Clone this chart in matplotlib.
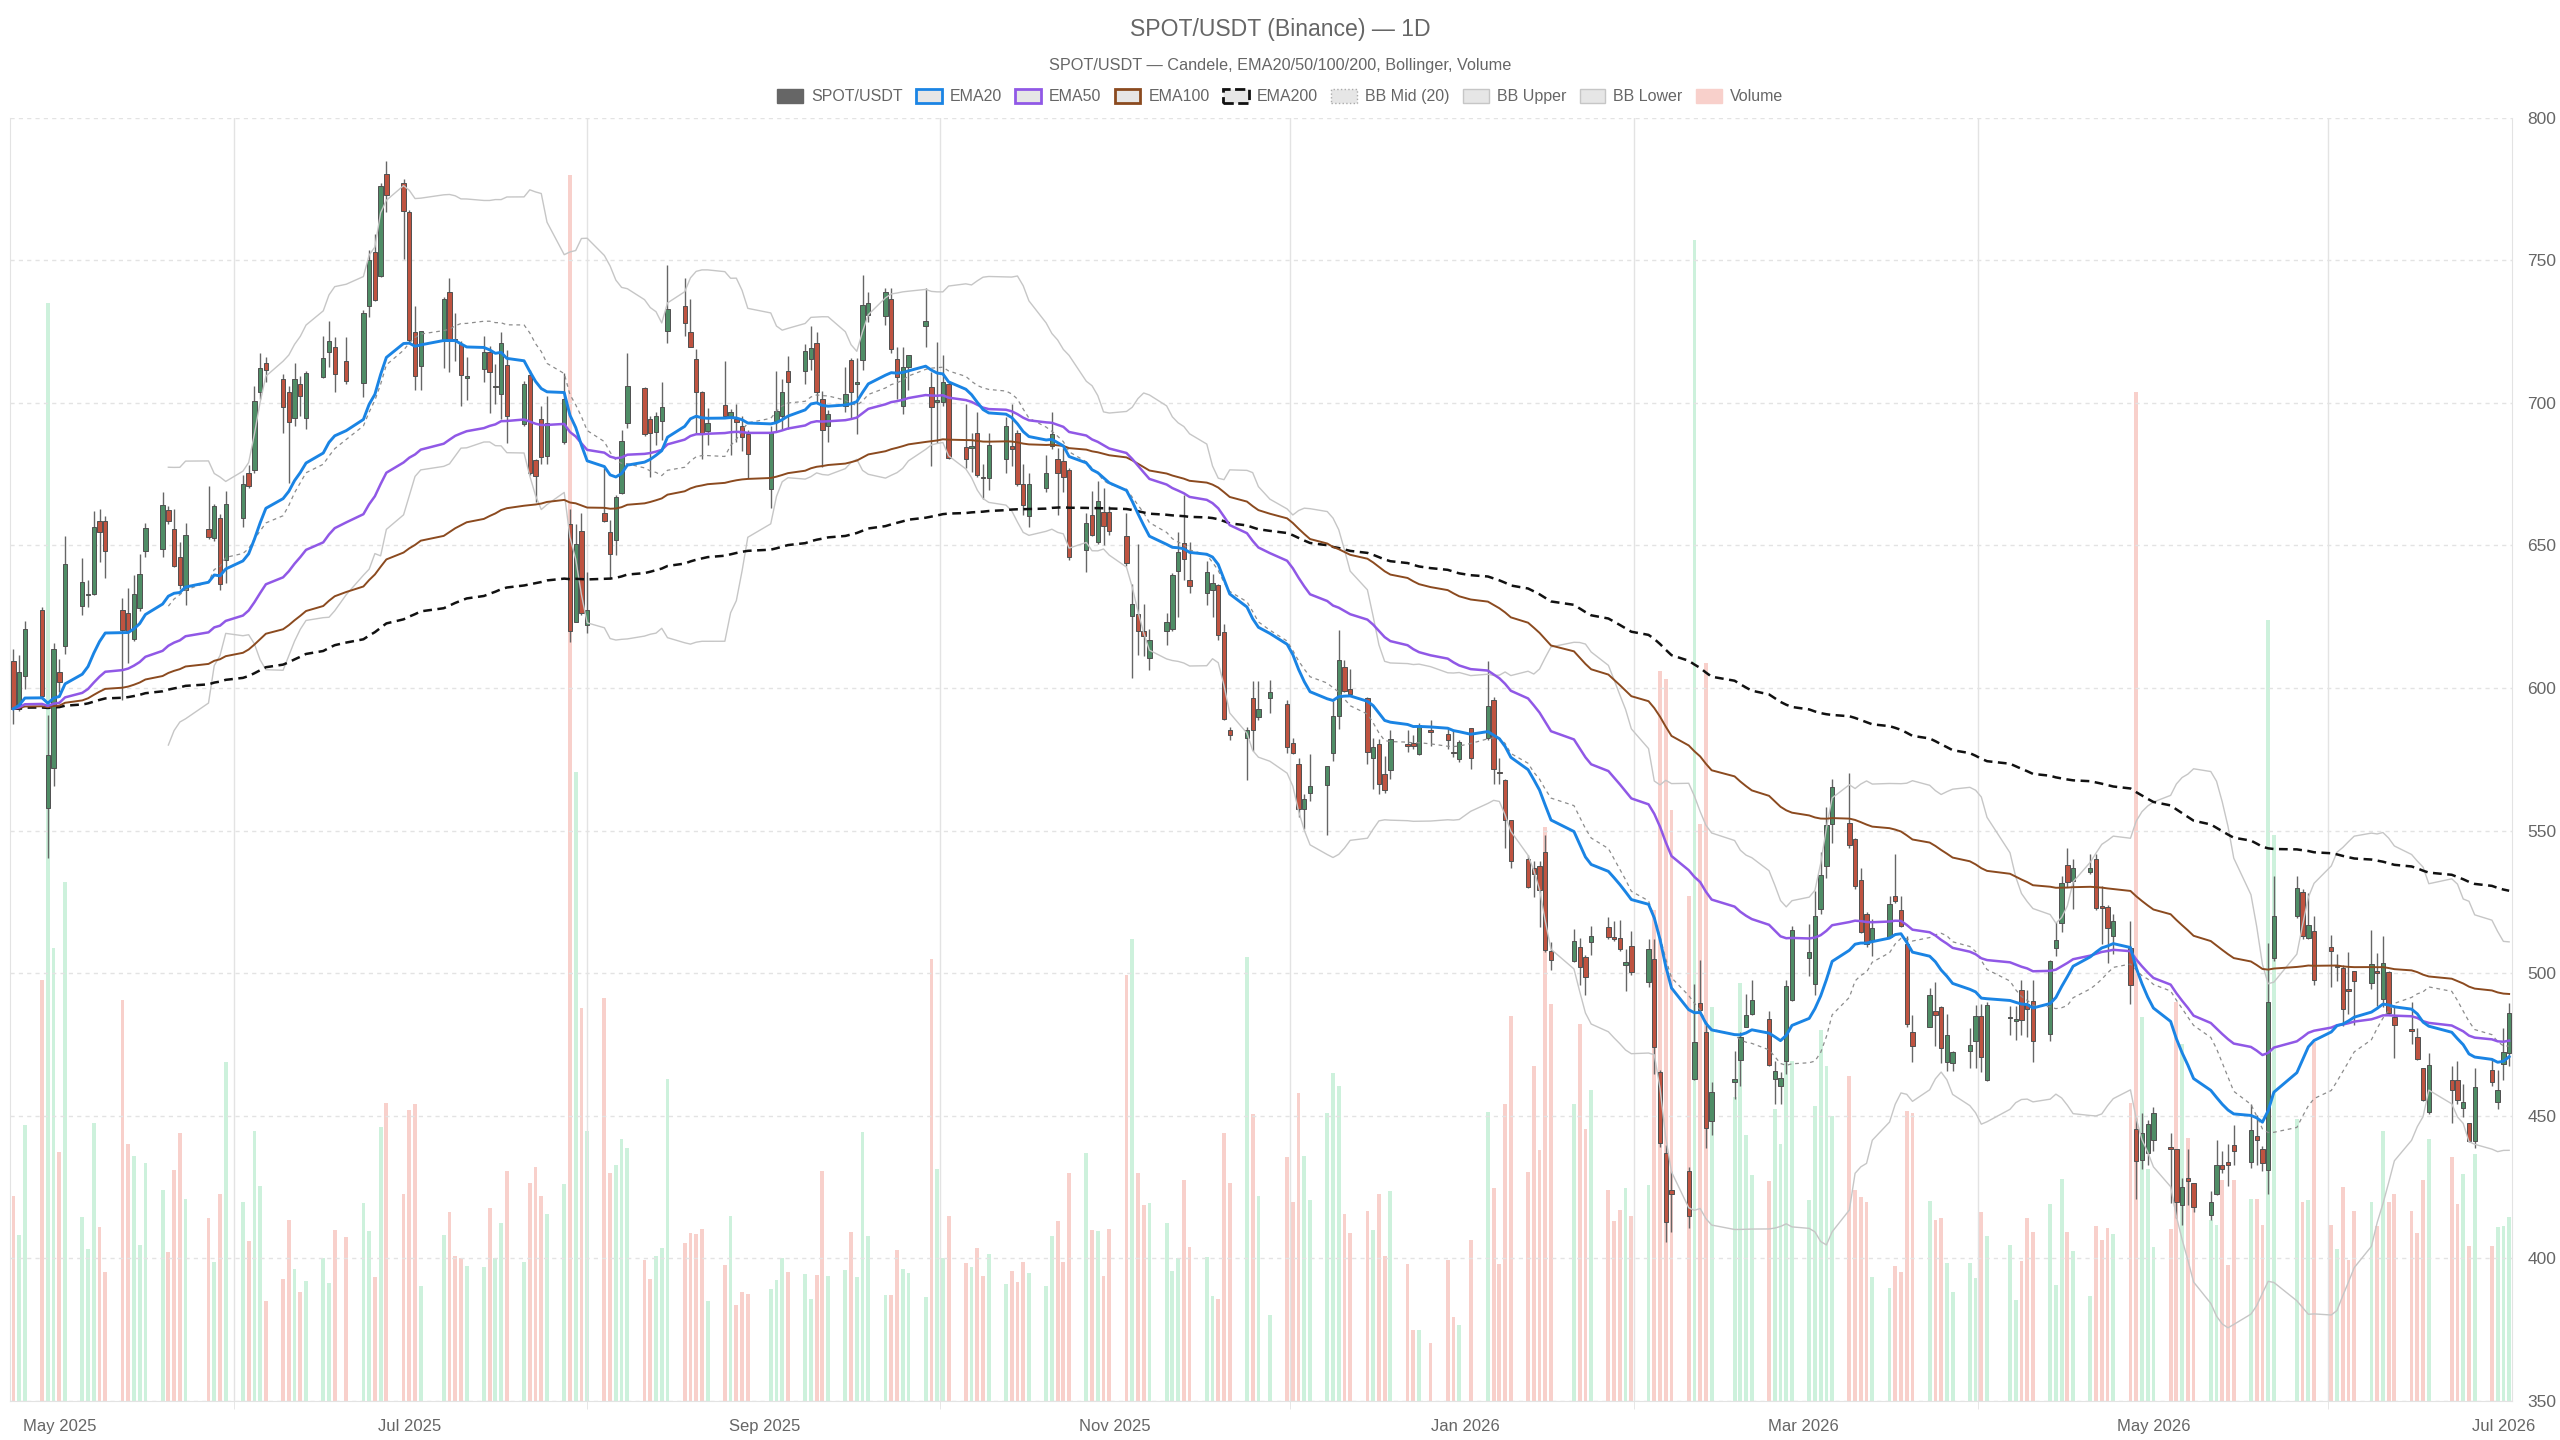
import numpy as np
import pandas as pd
import matplotlib
matplotlib.use("Agg")
import matplotlib.pyplot as plt
import matplotlib.dates as mdates
from matplotlib.patches import Patch
from matplotlib.ticker import FixedLocator

plt.rcParams["font.family"] = ["Liberation Sans", "DejaVu Sans"]

# trading days, exchange holidays removed
holidays = ["2025-05-26", "2025-06-19", "2025-07-04", "2025-09-01", "2025-11-27",
            "2025-12-25", "2026-01-01", "2026-01-19", "2026-02-16", "2026-04-03",
            "2026-05-25", "2026-06-19"]
dates = pd.bdate_range("2025-04-23", "2026-07-02", freq="C", holidays=holidays)

# one row per month
opens = [
    609.6, 592.7, 604.3, 627.5, 557.9, 571.8,
    605.7, 614.6, 628.6, 632.5, 632.9, 658.4, 658.4, 627.5, 626.3, 617.3, 628.0, 648.0, 648.6, 662.5, 655.7, 645.9, 634.3, 655.7, 652.5, 659.6, 645.0,
    659.6, 675.4, 676.3, 703.9, 713.8, 708.4, 703.9, 694.5, 706.4, 694.5, 709.1, 717.7, 719.5, 714.5, 707.0, 734.0, 752.8, 744.5, 780.2, 777.0,
    766.9, 724.7, 713.0, 721.6, 738.8, 722.3, 720.5, 708.8, 711.9, 717.7, 705.4, 703.1, 713.3, 692.7, 709.8, 679.8, 694.2, 681.4, 686.1, 657.5, 623.0, 655.2,
    622.0, 661.4, 654.8, 651.7, 668.4, 693.0, 705.0, 694.3, 689.7, 693.7, 725.0, 734.0, 724.9, 715.5, 703.8, 690.0, 699.1, 695.5, 694.3, 691.9, 689.2,
    669.8, 693.6, 695.2, 711.2, 711.2, 715.4, 720.9, 701.3, 691.9, 698.8, 715.1, 706.7, 715.1, 730.8, 730.4, 736.5, 715.4, 698.7, 712.6, 727.0, 705.4,
    700.2, 700.3, 706.4, 684.4, 684.3, 689.4, 673.8, 673.6, 680.2, 684.8, 689.5, 671.6, 660.2, 670.0, 684.8, 680.2, 679.7, 676.3, 648.4, 660.6, 651.3, 661.7, 661.7,
    653.1, 625.2, 625.9, 620.0, 610.6, 620.0, 620.5, 641.1, 650.8, 637.7, 633.3, 634.4, 636.1, 619.5, 585.2, 582.5, 596.6, 589.8, 596.6,
    594.5, 580.7, 573.2, 557.4, 563.1, 566.0, 577.1, 590.3, 607.2, 599.5, 596.4, 575.3, 580.3, 569.9, 571.4, 580.3, 580.7, 576.7, 585.2, 583.9, 577.6, 575.0,
    586.0, 582.5, 595.9, 570.5, 567.8, 553.8, 539.9, 536.9, 537.4, 542.6, 507.9, 504.3, 509.1, 505.5, 510.9, 516.2, 512.8, 512.3, 502.8, 509.5,
    496.9, 504.8, 465.4, 436.9, 424.0, 430.7, 462.9, 489.7, 479.3, 448.3, 462.0, 469.6, 481.3, 485.7, 483.8, 462.9, 460.5, 469.3, 490.7,
    505.3, 496.1, 522.6, 537.6, 552.2, 552.7, 546.9, 532.6, 520.9, 511.5, 512.8, 527.1, 522.0, 510.3, 479.3, 481.0, 486.9, 488.0, 468.9, 468.5, 472.8, 476.3,
    484.9, 462.7, 484.2, 483.3, 494.0, 489.3, 490.4, 478.8, 508.9, 517.5, 537.8, 532.4, 535.5, 540.2, 523.3, 523.3, 513.1, 508.9, 445.4, 434.5, 436.8,
    441.5, 438.9, 438.4, 418.8, 428.2, 426.6, 415.2, 422.7, 432.9, 433.7, 439.6, 433.9, 442.9, 438.5, 430.9, 505.2, 520.0, 528.4, 512.3, 514.8,
    509.2, 502.0, 501.8, 494.6, 500.8, 496.4, 500.8, 490.9, 500.5, 484.6, 480.0, 477.6, 466.8, 451.3, 462.4, 462.4, 452.8, 447.6, 441.3, 466.1, 455.0,
    468.3, 472.0,
]
highs = [
    613.8, 611.4, 623.6, 628.5, 590.5, 615.6,
    610.2, 653.1, 645.5, 637.9, 662.0, 662.9, 660.2, 631.6, 635.2, 639.6, 646.8, 658.0, 668.6, 663.8, 662.9, 651.1, 657.9, 670.9, 664.6, 661.0, 669.1,
    674.5, 678.1, 705.7, 717.3, 716.1, 710.2, 705.7, 713.8, 709.3, 711.1, 723.4, 728.6, 723.1, 723.1, 732.5, 753.6, 759.0, 777.2, 784.8, 778.6,
    767.7, 734.0, 725.3, 737.2, 743.8, 731.6, 721.6, 716.1, 723.4, 720.0, 713.6, 724.7, 718.5, 707.5, 711.4, 680.2, 698.9, 702.2, 710.5, 662.9, 657.5, 661.4,
    640.6, 677.0, 659.0, 667.7, 690.3, 717.4, 705.5, 695.5, 696.9, 707.1, 748.3, 743.8, 736.3, 718.7, 704.2, 698.0, 714.7, 697.7, 699.4, 695.5, 690.4,
    691.9, 711.2, 708.4, 716.3, 720.5, 726.8, 724.9, 704.2, 697.4, 712.5, 715.8, 715.8, 744.8, 738.8, 740.2, 740.2, 719.5, 719.5, 716.9, 740.2, 710.8,
    721.4, 716.6, 707.1, 699.5, 689.5, 696.6, 678.6, 689.5, 695.0, 699.7, 690.3, 678.6, 675.2, 681.7, 696.6, 684.1, 684.1, 677.0, 661.4, 669.2, 672.5, 670.0, 663.9,
    661.4, 636.4, 650.5, 629.4, 620.5, 626.3, 640.3, 654.5, 667.8, 651.1, 644.5, 640.0, 636.4, 622.3, 586.4, 586.4, 602.3, 602.3, 602.8,
    595.8, 582.5, 575.3, 562.8, 576.7, 572.6, 595.3, 620.4, 609.7, 606.6, 596.8, 582.5, 582.1, 576.2, 585.2, 585.2, 583.4, 587.8, 588.7, 586.1, 585.2, 581.6,
    586.0, 609.3, 596.8, 575.3, 568.2, 553.8, 541.3, 539.2, 539.5, 548.5, 510.9, 515.4, 512.3, 506.4, 516.5, 519.6, 518.3, 518.7, 508.3, 514.9,
    512.1, 512.1, 465.9, 439.9, 430.7, 431.9, 496.1, 504.5, 481.9, 461.7, 472.8, 479.3, 492.7, 497.7, 486.8, 469.2, 465.4, 497.6, 516.5,
    517.1, 528.7, 542.4, 558.1, 568.2, 570.2, 547.3, 536.7, 521.5, 519.1, 527.1, 541.7, 527.1, 513.2, 485.2, 494.7, 496.9, 488.5, 485.7, 472.8, 480.7, 488.9,
    489.3, 490.0, 488.5, 488.5, 497.6, 494.0, 497.6, 504.5, 517.9, 534.1, 543.8, 540.2, 541.7, 541.7, 530.6, 523.8, 520.6, 518.3, 449.3, 450.9, 448.5,
    453.2, 443.9, 438.4, 428.2, 438.4, 426.6, 423.5, 441.5, 437.6, 440.0, 446.8, 454.3, 450.3, 439.5, 510.7, 534.0, 534.0, 529.5, 528.1, 519.9,
    513.3, 506.7, 503.0, 507.5, 500.8, 515.1, 506.9, 512.9, 500.8, 489.0, 489.9, 480.9, 466.8, 471.9, 467.6, 469.3, 461.1, 447.6, 466.8, 469.8, 466.1,
    480.9, 489.7,
]
lows = [
    587.3, 592.0, 599.5, 596.0, 540.5, 565.5,
    598.6, 611.9, 625.7, 628.4, 632.5, 644.1, 638.4, 595.7, 608.6, 616.4, 627.1, 645.9, 645.9, 657.5, 642.3, 634.6, 629.1, 652.1, 651.6, 634.3, 636.9,
    656.6, 670.0, 675.4, 701.3, 707.1, 689.3, 672.0, 691.8, 695.2, 690.9, 708.6, 712.5, 703.6, 706.7, 702.0, 730.1, 735.5, 744.2, 766.9, 750.5,
    720.8, 704.4, 704.4, 712.2, 710.6, 714.5, 698.9, 700.8, 707.3, 696.3, 699.7, 694.2, 685.9, 692.0, 674.7, 665.3, 678.6, 678.6, 685.6, 616.1, 623.0, 625.5,
    619.2, 658.3, 638.3, 646.6, 668.0, 691.1, 688.5, 673.9, 685.2, 687.0, 720.9, 723.4, 719.5, 689.0, 680.2, 685.2, 694.8, 681.6, 686.1, 683.2, 673.7,
    663.2, 689.9, 690.4, 690.7, 706.6, 711.3, 700.2, 677.3, 686.1, 696.7, 694.2, 688.9, 711.5, 728.3, 727.1, 717.4, 701.3, 696.2, 704.6, 719.5, 677.9,
    686.0, 698.8, 680.2, 677.1, 675.7, 673.9, 666.1, 669.4, 675.2, 677.7, 670.8, 660.6, 656.4, 668.6, 683.6, 660.8, 668.6, 645.0, 640.7, 653.1, 650.5, 650.0, 653.6,
    642.7, 603.6, 611.7, 611.3, 606.4, 615.2, 620.0, 624.8, 637.8, 633.3, 629.2, 624.7, 616.9, 588.8, 581.7, 567.7, 577.9, 588.6, 591.2,
    577.1, 576.7, 554.7, 550.6, 560.5, 548.5, 574.4, 585.7, 598.6, 597.7, 573.5, 564.4, 562.9, 563.1, 568.2, 577.6, 578.6, 576.6, 579.6, 578.6, 575.7, 573.9,
    571.7, 581.6, 566.4, 566.4, 544.0, 536.8, 529.7, 526.6, 516.1, 507.3, 501.1, 503.8, 495.9, 492.3, 506.2, 512.0, 511.2, 507.8, 493.8, 499.5,
    495.2, 464.6, 439.1, 405.6, 409.3, 410.6, 462.6, 486.1, 438.8, 443.3, 455.9, 460.5, 481.0, 485.2, 467.6, 454.1, 454.1, 464.6, 490.2,
    498.9, 492.4, 520.8, 533.3, 545.5, 543.8, 529.6, 514.1, 509.1, 506.1, 512.3, 524.6, 516.2, 481.0, 469.0, 481.0, 474.5, 468.5, 465.8, 465.8, 466.9, 466.9,
    465.3, 462.2, 478.4, 476.7, 478.4, 477.6, 468.9, 476.3, 506.1, 514.3, 530.1, 522.6, 534.6, 522.2, 510.3, 503.4, 506.7, 489.3, 420.9, 431.3, 432.9,
    437.6, 419.3, 414.1, 411.7, 418.8, 416.4, 413.3, 422.2, 429.8, 425.4, 432.6, 431.8, 432.7, 430.8, 422.5, 504.2, 519.2, 512.1, 511.9, 495.7,
    495.2, 497.1, 481.6, 485.6, 481.9, 494.5, 488.6, 488.1, 485.4, 470.3, 475.3, 469.4, 455.1, 450.7, 447.5, 454.3, 449.6, 440.7, 438.8, 460.5, 452.5,
    462.5, 467.6,
]
closes = [
    592.7, 605.7, 620.5, 597.1, 576.6, 613.8,
    602.1, 643.6, 637.0, 633.0, 656.6, 654.8, 648.0, 620.4, 620.0, 632.9, 640.0, 656.0, 664.3, 658.4, 642.9, 636.0, 653.6, 653.0, 663.8, 636.4, 664.6,
    671.4, 670.7, 700.7, 712.3, 711.6, 698.6, 693.2, 708.4, 702.5, 710.5, 715.6, 721.6, 710.2, 707.5, 731.4, 750.0, 736.0, 776.0, 772.7, 767.2,
    722.0, 709.4, 725.0, 736.4, 721.6, 721.6, 709.8, 709.2, 717.7, 710.6, 705.8, 720.8, 695.5, 706.7, 675.5, 674.4, 681.0, 693.0, 701.3, 620.0, 650.5, 626.3,
    627.3, 658.6, 647.0, 666.9, 686.7, 706.0, 689.2, 689.4, 695.2, 698.4, 732.8, 727.9, 719.5, 703.9, 689.4, 693.0, 695.2, 696.7, 693.3, 688.0, 682.0,
    689.7, 697.2, 703.9, 707.1, 718.3, 719.2, 703.8, 690.4, 696.2, 703.2, 703.9, 707.4, 734.3, 735.0, 738.7, 718.8, 708.9, 712.6, 716.6, 728.5, 698.4,
    700.5, 707.4, 680.7, 680.2, 684.7, 674.7, 673.5, 685.2, 691.9, 683.6, 671.6, 664.1, 671.6, 675.5, 689.1, 675.2, 673.9, 645.8, 657.8, 653.6, 665.6, 656.7, 655.2,
    643.9, 629.4, 620.0, 618.1, 616.9, 623.1, 639.5, 647.7, 645.3, 635.6, 640.6, 636.7, 618.4, 589.2, 583.6, 585.2, 585.2, 592.7, 598.6,
    579.2, 577.1, 557.4, 561.0, 565.5, 572.6, 590.0, 609.7, 598.9, 597.9, 577.5, 579.2, 566.4, 564.2, 582.1, 579.6, 579.6, 586.9, 584.6, 581.6, 577.1, 581.0,
    575.3, 593.6, 571.7, 570.1, 553.8, 539.5, 530.2, 534.7, 529.2, 508.2, 504.7, 511.4, 502.3, 498.7, 513.2, 512.8, 512.0, 508.6, 504.0, 500.3,
    508.3, 474.0, 440.4, 412.8, 422.6, 414.8, 476.0, 487.2, 445.8, 458.4, 462.9, 477.6, 485.5, 490.5, 467.9, 465.6, 463.4, 495.6, 515.0,
    507.5, 520.0, 534.3, 551.9, 565.1, 545.0, 530.4, 514.5, 510.3, 515.9, 524.1, 525.4, 516.5, 482.3, 474.6, 492.4, 485.4, 473.6, 478.3, 472.5, 474.7, 484.9,
    470.5, 489.0, 484.6, 483.6, 483.5, 487.3, 476.3, 504.2, 511.7, 531.6, 531.9, 537.0, 537.0, 523.0, 523.0, 515.9, 518.3, 496.0, 434.2, 443.9, 447.0,
    450.9, 438.5, 419.6, 425.0, 427.1, 418.0, 419.6, 432.9, 431.3, 432.9, 437.6, 445.0, 441.4, 433.3, 490.0, 520.0, 529.9, 512.9, 517.0, 497.6,
    507.8, 502.5, 487.5, 493.7, 497.1, 503.3, 500.0, 503.5, 486.0, 481.9, 479.7, 469.8, 455.5, 467.9, 459.0, 455.5, 455.0, 441.0, 460.2, 462.0, 459.2,
    472.3, 486.0,
]
# volume, thousands
volume_k = [
    72.0, 58.3, 96.9, 147.7, 385.0, 158.8,
    87.3, 182.0, 64.4, 53.3, 97.5, 61.1, 45.4, 140.6, 90.2, 85.9, 54.6, 83.6, 74.0, 52.2, 81.0, 93.9, 70.7, 64.1, 48.7, 72.7, 118.7,
    69.7, 56.1, 94.7, 75.3, 34.9, 42.9, 63.6, 46.2, 38.2, 42.2, 50.2, 41.4, 59.9, 57.5, 69.4, 59.6, 43.4, 95.9, 104.6, 72.4,
    102.2, 104.3, 40.2, 58.1, 66.4, 50.8, 50.2, 47.5, 46.9, 67.7, 50.0, 62.3, 80.6, 48.7, 76.5, 82.0, 72.0, 65.7, 76.0, 430.0, 220.5, 137.7,
    94.7, 141.2, 80.1, 82.6, 91.7, 88.6, 49.5, 42.9, 50.8, 53.6, 112.9, 55.3, 58.8, 58.6, 60.3, 35.1, 47.8, 64.9, 33.8, 38.1, 37.6,
    39.2, 42.5, 50.2, 45.4, 44.5, 35.6, 44.2, 80.6, 43.9, 45.9, 59.1, 43.4, 94.4, 57.9, 37.1, 37.1, 52.8, 46.4, 45.0, 36.3, 155.1,
    81.5, 50.3, 64.9, 48.3, 47.0, 53.8, 43.9, 51.7, 40.9, 45.5, 41.6, 48.7, 45.0, 40.4, 57.9, 63.2, 48.8, 80.1, 86.9, 59.9, 59.6, 43.9, 60.3,
    149.3, 162.1, 79.8, 68.7, 69.4, 62.4, 45.5, 50.0, 77.6, 54.1, 50.5, 36.8, 35.9, 93.9, 76.5, 155.5, 100.5, 72.0, 30.1,
    85.4, 69.7, 108.1, 85.8, 70.6, 101.0, 114.9, 110.5, 65.7, 58.9, 66.5, 59.8, 72.4, 50.9, 73.6, 48.2, 25.0, 25.0, 20.5, 49.5, 29.4, 26.7,
    56.6, 101.3, 74.7, 48.2, 104.2, 135.0, 80.4, 117.4, 88.1, 201.2, 139.1, 104.0, 132.3, 95.3, 108.9, 74.0, 63.1, 67.0, 74.8, 64.8,
    75.7, 172.0, 255.9, 253.0, 207.3, 177.1, 407.0, 202.2, 258.7, 138.0, 106.7, 146.4, 93.3, 79.4, 77.0, 102.5, 90.0, 121.0, 119.3,
    70.3, 103.3, 130.2, 117.6, 100.0, 113.9, 74.0, 71.5, 69.8, 43.5, 39.6, 47.5, 45.2, 101.7, 100.8, 70.0, 63.3, 64.1, 48.5, 38.3, 48.5, 43.0,
    66.2, 57.9, 54.7, 35.5, 49.2, 64.1, 59.4, 69.1, 40.6, 77.7, 59.4, 52.7, 36.7, 61.5, 56.4, 60.7, 58.6, 104.4, 353.8, 134.6, 81.3,
    53.9, 60.2, 140.0, 125.2, 92.3, 69.6, 63.3, 61.7, 77.4, 47.7, 77.4, 70.8, 70.8, 61.7, 273.7, 198.4, 98.7, 69.6, 70.6, 125.7,
    61.7, 53.3, 75.2, 49.6, 66.6, 69.9, 61.4, 94.7, 69.6, 72.5, 66.6, 58.8, 77.4, 92.0, 85.4, 69.1, 79.5, 54.4, 86.6, 54.4, 61.0,
    61.2, 64.4,
]

o = np.array(opens)
h = np.array(highs)
l = np.array(lows)
c = np.array(closes)
v = np.array(volume_k)
assert len(dates) == len(o) == len(h) == len(l) == len(c) == len(v), (len(dates), len(o), len(h), len(l), len(c), len(v))

# indicators
close_s = pd.Series(c, index=dates)
ema = {n: close_s.ewm(span=n, adjust=False).mean() for n in (20, 50, 100, 200)}
bb_mid = close_s.rolling(20).mean()
bb_std = close_s.rolling(20).std(ddof=0)
bb_up = bb_mid + 2 * bb_std
bb_lo = bb_mid - 2 * bb_std

x = mdates.date2num(dates)
up = c >= o

GREEN = "#4f8d66"
RED = "#bf5340"
VOL_UP = "#cdf1dc"
VOL_DN = "#f8d0cb"
TXT = "#666666"
GRID = "#e3e3e3"
C20, C50, C100, C200 = "#1a84e4", "#9058e6", "#8b4a1f", "#111111"
BB_LINE, BB_MID = "#c6c6c6", "#8c8c8c"

fig = plt.figure(figsize=(25.6, 14.4), dpi=100)
ax = fig.add_axes([10 / 2560, 39 / 1440, 2502 / 2560, 1283.5 / 1440])
axv = ax.twinx()
ax.set_zorder(axv.get_zorder() + 1)
ax.patch.set_visible(False)

# volume behind everything
axv.bar(x, v, width=0.66, color=np.where(up, VOL_UP, VOL_DN), linewidth=0)
axv.set_ylim(0, 450)
axv.set_yticks([])
for s in axv.spines.values():
    s.set_visible(False)

# candles
ax.vlines(x, np.minimum(l, np.minimum(o, c)), np.maximum(h, np.maximum(o, c)),
          color="#666666", linewidth=1.0, zorder=3)
ax.bar(x, np.maximum(np.abs(c - o), 0.6), bottom=np.minimum(o, c), width=0.76,
       color=np.where(up, GREEN, RED), edgecolor="#505050", linewidth=0.7, zorder=4)

# bands and averages
ax.plot(x, bb_up, color=BB_LINE, lw=1.0, zorder=5)
ax.plot(x, bb_lo, color=BB_LINE, lw=1.0, zorder=5)
ax.plot(x, bb_mid, color=BB_MID, lw=0.9, ls=(0, (3, 3)), zorder=5)
ax.plot(x, ema[200], color=C200, lw=1.8, ls=(0, (3.5, 2.2)), zorder=6)
ax.plot(x, ema[100], color=C100, lw=1.4, zorder=6)
ax.plot(x, ema[50], color=C50, lw=1.8, zorder=6)
ax.plot(x, ema[20], color=C20, lw=2.1, zorder=7)

# axes
ax.set_ylim(350, 800)
ax.yaxis.tick_right()
ax.set_yticks(np.arange(350, 801, 50))
ax.tick_params(axis="y", length=0, pad=11, labelsize=12.5, labelcolor=TXT)
ax.grid(axis="y", color=GRID, ls=(0, (3, 3)), lw=1.0)

label_months = pd.date_range("2025-03-01", "2026-09-01", freq="2MS")
lm = mdates.date2num(label_months)
ax.set_xticks(lm)
ax.xaxis.set_major_formatter(mdates.DateFormatter("%b %Y"))
ax.xaxis.set_minor_locator(FixedLocator((lm[:-1] + lm[1:]) / 2))
ax.tick_params(axis="x", which="major", length=0, pad=13, labelsize=12, labelcolor=TXT)
ax.tick_params(axis="x", which="minor", length=6, color=GRID)
ax.grid(axis="x", which="minor", color=GRID, lw=1.0)
ax.set_xlim(x[0] - 0.6, x[-1] + 0.5)

ax.spines["top"].set_visible(False)
for side in ("left", "right", "bottom"):
    ax.spines[side].set_color(GRID)

# titles
fig.text(0.5, 1 - 29.5 / 1440, "SPOT/USDT (Binance) — 1D", ha="center", va="center",
         fontsize=16.6, color=TXT)
fig.text(0.5, 1 - 65.5 / 1440, "SPOT/USDT — Candele, EMA20/50/100/200, Bollinger, Volume",
         ha="center", va="center", fontsize=11.7, color=TXT)

LFILL = "#e6e6e6"
handles = [
    Patch(facecolor="#666666", edgecolor="#666666", label="SPOT/USDT"),
    Patch(facecolor=LFILL, edgecolor=C20, lw=2, label="EMA20"),
    Patch(facecolor=LFILL, edgecolor=C50, lw=2, label="EMA50"),
    Patch(facecolor=LFILL, edgecolor=C100, lw=2, label="EMA100"),
    Patch(facecolor=LFILL, edgecolor=C200, lw=2, ls="--", label="EMA200"),
    Patch(facecolor=LFILL, edgecolor="#aaaaaa", lw=1, ls=":", label="BB Mid (20)"),
    Patch(facecolor=LFILL, edgecolor=BB_LINE, lw=1, label="BB Upper"),
    Patch(facecolor=LFILL, edgecolor=BB_LINE, lw=1, label="BB Lower"),
    Patch(facecolor=VOL_DN, edgecolor=VOL_DN, label="Volume"),
]
fig.legend(handles=handles, loc="center", bbox_to_anchor=(0.5, 1 - 96.5 / 1440), ncol=9,
           frameon=False, fontsize=11.5, handlelength=1.6, handleheight=1.0,
           handletextpad=0.5, columnspacing=0.85, labelcolor=TXT)

fig.savefig("out.png", dpi=100, facecolor="white")
